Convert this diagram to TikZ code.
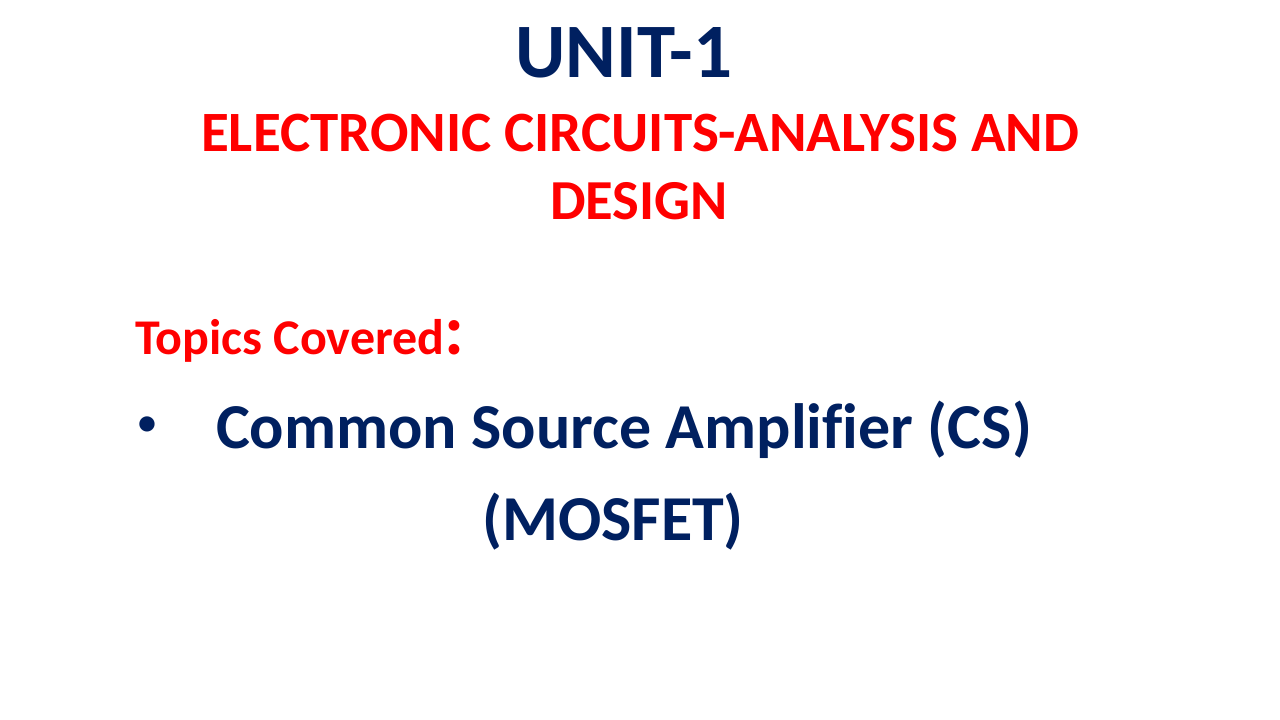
\documentclass[tikz,border=0pt]{standalone}
\usepackage{fontspec}
\setmainfont[Ligatures=NoCommon]{Carlito}
\definecolor{navy}{RGB}{0,32,96}
\definecolor{redt}{RGB}{255,0,0}
\tikzset{txt/.style={inner sep=0pt,outer sep=0pt,anchor=base,font=\bfseries}}
\newcommand{\fs}[1]{\fontsize{#1}{#1}\selectfont}
\begin{document}
\begin{tikzpicture}[x=1pt,y=-1pt]
\useasboundingbox (0,0) rectangle (1280,720);
\fill[white] (0,0) rectangle (1280,720);
\node[txt,text=navy] (unit) at (624,77) {\fs{77}UNIT-1};
\node[txt,text=redt] (t1) at (640,151.5) {\fs{57}ELECTRONIC CIRCUITS-ANALYSIS AND};
\node[txt,text=redt] (t2) at (639,219) {\fs{56.5}DESIGN};
\node[txt,text=redt,anchor=base west] (topics) at (135,354) {\fs{50}Topics Covered\fs{72}:};
\node[txt,text=navy,anchor=base west] (bullet) at (138,434) {\fs{36}•};
\node[txt,text=navy,anchor=base west] (cs) at (216,448) {\fs{64}Common Source Amplif{}ier (CS)};
\node[txt,text=navy] (mos) at (613,540) {\fs{64}(MOSFET)};
\end{tikzpicture}
\end{document}
